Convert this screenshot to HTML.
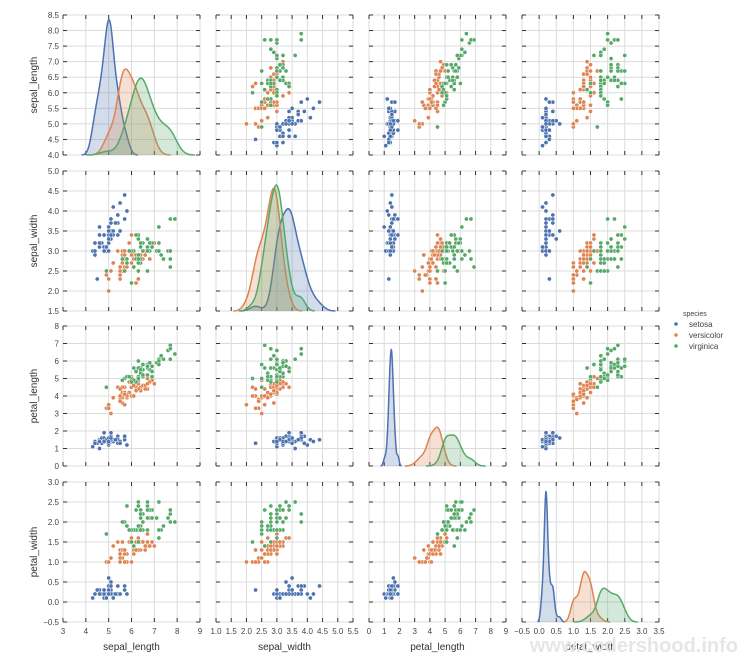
<!DOCTYPE html>
<html><head><meta charset="utf-8"><style>
body{margin:0;background:#fff;}
svg{display:block;font-family:"Liberation Sans",sans-serif;}
</style></head><body>
<svg id="chart" width="742" height="658" viewBox="0 0 742 658" xmlns="http://www.w3.org/2000/svg"></svg>
<script>
const varNames = ["sepal_length","sepal_width","petal_length","petal_width"];
const speciesNames = ["setosa","versicolor","virginica"];
const xDomains = [[3,9],[1,5.5],[0,9],[-0.5,3.5]];
const yDomains = [[4,8.5],[1.5,5],[0,8],[-0.5,3]];
const xTicks = [[3,4,5,6,7,8,9],[1,1.5,2,2.5,3,3.5,4,4.5,5,5.5],[0,1,2,3,4,5,6,7,8,9],[-0.5,0,0.5,1,1.5,2,2.5,3,3.5]];
const yTicks = [[4,4.5,5,5.5,6,6.5,7,7.5,8,8.5],[1.5,2,2.5,3,3.5,4,4.5,5],[0,1,2,3,4,5,6,7,8],[-0.5,0,0.5,1,1.5,2,2.5,3]];
const xTickLabels = [["3","4","5","6","7","8","9"],["1.0","1.5","2.0","2.5","3.0","3.5","4.0","4.5","5.0","5.5"],["0","1","2","3","4","5","6","7","8","9"],["−0.5","0.0","0.5","1.0","1.5","2.0","2.5","3.0","3.5"]];
const yTickLabels = [["4.0","4.5","5.0","5.5","6.0","6.5","7.0","7.5","8.0","8.5"],["1.5","2.0","2.5","3.0","3.5","4.0","4.5","5.0"],["0","1","2","3","4","5","6","7","8"],["−0.5","0.0","0.5","1.0","1.5","2.0","2.5","3.0"]];
const setosa = [[5.1,3.5,1.4,0.2],[4.9,3.0,1.4,0.2],[4.7,3.2,1.3,0.2],[4.6,3.1,1.5,0.2],[5.0,3.6,1.4,0.2],[5.4,3.9,1.7,0.4],[4.6,3.4,1.4,0.3],[5.0,3.4,1.5,0.2],[4.4,2.9,1.4,0.2],[4.9,3.1,1.5,0.1],[5.4,3.7,1.5,0.2],[4.8,3.4,1.6,0.2],[4.8,3.0,1.4,0.1],[4.3,3.0,1.1,0.1],[5.8,4.0,1.2,0.2],[5.7,4.4,1.5,0.4],[5.4,3.9,1.3,0.4],[5.1,3.5,1.4,0.3],[5.7,3.8,1.7,0.3],[5.1,3.8,1.5,0.3],[5.4,3.4,1.7,0.2],[5.1,3.7,1.5,0.4],[4.6,3.6,1.0,0.2],[5.1,3.3,1.7,0.5],[4.8,3.4,1.9,0.2],[5.0,3.0,1.6,0.2],[5.0,3.4,1.6,0.4],[5.2,3.5,1.5,0.2],[5.2,3.4,1.4,0.2],[4.7,3.2,1.6,0.2],[4.8,3.1,1.6,0.2],[5.4,3.4,1.5,0.4],[5.2,4.1,1.5,0.1],[5.5,4.2,1.4,0.2],[4.9,3.1,1.5,0.1],[5.0,3.2,1.2,0.2],[5.5,3.5,1.3,0.2],[4.9,3.1,1.5,0.1],[4.4,3.0,1.3,0.2],[5.1,3.4,1.5,0.2],[5.0,3.5,1.3,0.3],[4.5,2.3,1.3,0.3],[4.4,3.2,1.3,0.2],[5.0,3.5,1.6,0.6],[5.1,3.8,1.9,0.4],[4.8,3.0,1.4,0.3],[5.1,3.8,1.6,0.2],[4.6,3.2,1.4,0.2],[5.3,3.7,1.5,0.2],[5.0,3.3,1.4,0.2]];
const versicolor = [[7.0,3.2,4.7,1.4],[6.4,3.2,4.5,1.5],[6.9,3.1,4.9,1.5],[5.5,2.3,4.0,1.3],[6.5,2.8,4.6,1.5],[5.7,2.8,4.5,1.3],[6.3,3.3,4.7,1.6],[4.9,2.4,3.3,1.0],[6.6,2.9,4.6,1.3],[5.2,2.7,3.9,1.4],[5.0,2.0,3.5,1.0],[5.9,3.0,4.2,1.5],[6.0,2.2,4.0,1.0],[6.1,2.9,4.7,1.4],[5.6,2.9,3.6,1.3],[6.7,3.1,4.4,1.4],[5.6,3.0,4.5,1.5],[5.8,2.7,4.1,1.0],[6.2,2.2,4.5,1.5],[5.6,2.5,3.9,1.1],[5.9,3.2,4.8,1.8],[6.1,2.8,4.0,1.3],[6.3,2.5,4.9,1.5],[6.1,2.8,4.7,1.2],[6.4,2.9,4.3,1.3],[6.6,3.0,4.4,1.4],[6.8,2.8,4.8,1.4],[6.7,3.0,5.0,1.7],[6.0,2.9,4.5,1.5],[5.7,2.6,3.5,1.0],[5.5,2.4,3.8,1.1],[5.5,2.4,3.7,1.0],[5.8,2.7,3.9,1.2],[6.0,2.7,5.1,1.6],[5.4,3.0,4.5,1.5],[6.0,3.4,4.5,1.6],[6.7,3.1,4.7,1.5],[6.3,2.3,4.4,1.3],[5.6,3.0,4.1,1.3],[5.5,2.5,4.0,1.3],[5.5,2.6,4.4,1.2],[6.1,3.0,4.6,1.4],[5.8,2.6,4.0,1.2],[5.0,2.3,3.3,1.0],[5.6,2.7,4.2,1.3],[5.7,3.0,4.2,1.2],[5.7,2.9,4.2,1.3],[6.2,2.9,4.3,1.3],[5.1,2.5,3.0,1.1],[5.7,2.8,4.1,1.3]];
const virginica = [[6.3,3.3,6.0,2.5],[5.8,2.7,5.1,1.9],[7.1,3.0,5.9,2.1],[6.3,2.9,5.6,1.8],[6.5,3.0,5.8,2.2],[7.6,3.0,6.6,2.1],[4.9,2.5,4.5,1.7],[7.3,2.9,6.3,1.8],[6.7,2.5,5.8,1.8],[7.2,3.6,6.1,2.5],[6.5,3.2,5.1,2.0],[6.4,2.7,5.3,1.9],[6.8,3.0,5.5,2.1],[5.7,2.5,5.0,2.0],[5.8,2.8,5.1,2.4],[6.4,3.2,5.3,2.3],[6.5,3.0,5.5,1.8],[7.7,3.8,6.7,2.2],[7.7,2.6,6.9,2.3],[6.0,2.2,5.0,1.5],[6.9,3.2,5.7,2.3],[5.6,2.8,4.9,2.0],[7.7,2.8,6.7,2.0],[6.3,2.7,4.9,1.8],[6.7,3.3,5.7,2.1],[7.2,3.2,6.0,1.8],[6.2,2.8,4.8,1.8],[6.1,3.0,4.9,1.8],[6.4,2.8,5.6,2.1],[7.2,3.0,5.8,1.6],[7.4,2.8,6.1,1.9],[7.9,3.8,6.4,2.0],[6.4,2.8,5.6,2.2],[6.3,2.8,5.1,1.5],[6.1,2.6,5.6,1.4],[7.7,3.0,6.1,2.3],[6.3,3.4,5.6,2.4],[6.4,3.1,5.5,1.8],[6.0,3.0,4.8,1.8],[6.9,3.1,5.4,2.1],[6.7,3.1,5.6,2.4],[6.9,3.1,5.1,2.3],[5.8,2.7,5.1,1.9],[6.8,3.2,5.9,2.3],[6.7,3.3,5.7,2.5],[6.7,3.0,5.2,2.3],[6.3,2.5,5.0,1.9],[6.5,3.0,5.2,2.0],[6.2,3.4,5.4,2.3],[5.9,3.0,5.1,1.8]];

const groups = [setosa, versicolor, virginica];
const colors = ["#4C72B0","#DD8452","#55A868"];
const L = [63,216,369,522], W = 137, T = [15,171,326,482], H = 140;
const diagPeak = [0.967,0.9,0.83,0.93];
const NS = "http://www.w3.org/2000/svg";
const svg = document.getElementById("chart");
function mk(tag, attrs, parent){const e=document.createElementNS(NS,tag);for(const k in attrs)e.setAttribute(k,attrs[k]);(parent||svg).appendChild(e);return e;}
function sx(c,v){const d=xDomains[c];return L[c]+(v-d[0])/(d[1]-d[0])*W;}
function sy(r,v){const d=yDomains[r];return T[r]+H-(v-d[0])/(d[1]-d[0])*H;}

function kde(vals){
  const n=vals.length, m=vals.reduce((a,b)=>a+b,0)/n;
  const sd=Math.sqrt(vals.reduce((a,b)=>a+(b-m)*(b-m),0)/(n-1));
  const bw=sd*Math.pow(n,-0.2);
  const lo=Math.min(...vals)-3*bw, hi=Math.max(...vals)+3*bw;
  const pts=[];
  for(let i=0;i<=120;i++){const x=lo+(hi-lo)*i/120;let s=0;for(const v of vals){const z=(x-v)/bw;s+=Math.exp(-0.5*z*z);}pts.push([x,s/(n*bw*Math.sqrt(2*Math.PI))]);}
  return pts;
}

for(let r=0;r<4;r++){
  for(let c=0;c<4;c++){
    const g=mk("g",{});
    
    
    // grid
    xTicks[c].forEach(t=>{mk("line",{x1:sx(c,t),x2:sx(c,t),y1:T[r],y2:T[r]+H,stroke:"#dcdcdc","stroke-width":1},g);});
    yTicks[r].forEach(t=>{mk("line",{x1:L[c],x2:L[c]+W,y1:sy(r,t),y2:sy(r,t),stroke:"#dcdcdc","stroke-width":1},g);});
    // ticks
    xTicks[c].forEach(t=>{const x=sx(c,t);
      mk("line",{x1:x,x2:x,y1:T[r],y2:T[r]+4,stroke:"#333","stroke-width":1},g);
      mk("line",{x1:x,x2:x,y1:T[r]+H,y2:T[r]+H-4,stroke:"#333","stroke-width":1},g);});
    yTicks[r].forEach(t=>{const y=sy(r,t);
      mk("line",{x1:L[c],x2:L[c]+4,y1:y,y2:y,stroke:"#333","stroke-width":1},g);
      mk("line",{x1:L[c]+W,x2:L[c]+W-4,y1:y,y2:y,stroke:"#333","stroke-width":1},g);});
    if(r===c){
      const ks=groups.map(gr=>kde(gr.map(d=>d[c])));
      const mx=Math.max(...ks.map(k=>Math.max(...k.map(p=>p[1]))));
      ks.forEach((k,si)=>{
        const base=T[r]+H;
        const pts=k.map(p=>[sx(c,p[0]),base-p[1]/mx*diagPeak[c]*H]);
        const line=pts.map((p,i)=>(i?"L":"M")+p[0].toFixed(2)+","+p[1].toFixed(2)).join("");
        const area=line+"L"+pts[pts.length-1][0].toFixed(2)+","+base+"L"+pts[0][0].toFixed(2)+","+base+"Z";
        const a=mk("path",{d:area,fill:colors[si],"fill-opacity":0.25,stroke:"none"},g);
        
        
        const l=mk("path",{d:line,fill:"none",stroke:colors[si],"stroke-width":1.5},g);
        
        
      });
    } else {
      groups.forEach((gr,si)=>{gr.forEach(d=>{
        const p=mk("circle",{cx:sx(c,d[c]),cy:sy(r,d[r]),r:2.1,fill:colors[si],stroke:"#fff","stroke-width":0.5},g);
        
        
      });});
    }
    if(c===0){
      yTicks[r].forEach((t,i)=>{const tx=mk("text",{x:L[0]-4,y:sy(r,t)+3,"font-size":8,fill:"#444","text-anchor":"end"},g);tx.textContent=yTickLabels[r][i];
        });
      const yl=mk("text",{x:0,y:0,"font-size":10,fill:"#333","text-anchor":"middle",transform:"translate(37,"+(T[r]+H/2)+") rotate(-90)"});
      yl.textContent=varNames[r];
      
      
    }
    if(r===3){
      xTicks[c].forEach((t,i)=>{const tx=mk("text",{x:sx(c,t),y:T[3]+H+12,"font-size":8,fill:"#444","text-anchor":"middle"},g);tx.textContent=xTickLabels[c][i];
        });
      const xl=mk("text",{x:L[c]+W/2,y:T[3]+H+28,"font-size":10,fill:"#333","text-anchor":"middle"});
      xl.textContent=varNames[c];
      
      
    }
  }
}
// legend
const lg=mk("g",{});


const lt=mk("text",{x:683,y:316,"font-size":7,fill:"#444"},lg);
lt.textContent="species";


speciesNames.forEach((s,i)=>{
  const y=324+i*11;
  const e=mk("g",{},lg);
  
  
  mk("circle",{cx:676,cy:y,r:1.8,fill:colors[i]},e);
  const t=mk("text",{x:689,y:y+3,"font-size":8,fill:"#444"},e);
  t.textContent=s;
});
// watermark
const wm=mk("text",{x:738,y:652,"font-size":20,fill:"#e6e6e6","text-anchor":"end","font-weight":"bold"});
wm.textContent="www.codershood.info";


</script>
</body></html>
